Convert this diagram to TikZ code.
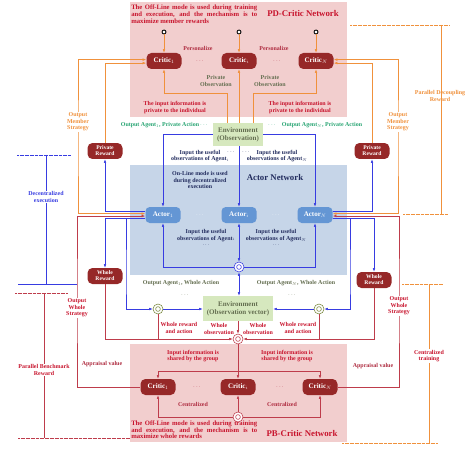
\documentclass[tikz,border=0pt]{standalone}
\usepackage{fontspec}
\setmainfont{Liberation Serif}
\usetikzlibrary{arrows.meta, positioning, calc}

\definecolor{pinkbg}{RGB}{242,206,206}
\definecolor{bluebg}{RGB}{198,213,232}
\definecolor{greenbg}{RGB}{214,232,190}
\definecolor{critred}{RGB}{150,40,40}
\definecolor{actblue}{RGB}{100,150,212}
\definecolor{txtred}{RGB}{200,20,45}
\definecolor{txtcrim}{RGB}{175,45,65}
\definecolor{linred}{RGB}{190,60,75}
\definecolor{linorange}{RGB}{240,145,60}
\definecolor{linblue}{RGB}{55,60,225}
\definecolor{txtnavy}{RGB}{35,45,95}
\definecolor{txtteal}{RGB}{40,165,115}
\definecolor{txtolive}{RGB}{100,110,80}
\definecolor{ringolive}{RGB}{120,135,60}

\hyphenpenalty=10000
\exhyphenpenalty=10000

\begin{document}
\begin{tikzpicture}[x=0.05cm, y=-0.05cm, line width=0.8pt,
      >={Latex[length=1.8mm,width=1.3mm]},
      critic/.style={rectangle, rounded corners=7pt, fill=critred, text=white, minimum width=1.75cm, minimum height=0.8cm, inner sep=1pt, font=\fontsize{10}{11}\selectfont\bfseries},
      actor/.style={critic, rounded corners=6pt, fill=actblue},
      reward/.style={critic, align=center, font=\fontsize{8}{8.5}\selectfont\bfseries},
      env/.style={rectangle, fill=greenbg, text=txtolive, align=center, inner sep=1pt, font=\fontsize{10}{11.5}\selectfont\bfseries},
      lbl/.style={align=center, inner sep=1pt, font=\fontsize{8.5}{9.5}\selectfont\bfseries},
      title/.style={inner sep=0pt, font=\fontsize{12.5}{14}\selectfont\bfseries},
      offline/.style={inner sep=0pt, text=txtred, text width=6.3cm, align=justify, font=\fontsize{9.5}{9.5}\selectfont\bfseries},
      dots/.style={inner sep=0pt, font=\fontsize{9}{9}\selectfont},
      term/.style={circle, draw, fill=white, line width=1.2pt, minimum size=0.2cm, inner sep=0pt},
      ring/.style={circle, draw=#1, fill=white, minimum size=0.5cm, inner sep=0pt, path picture={\draw[#1] (path picture bounding box.center) circle (0.12cm);}},
      oarr/.style={->, linorange},
      barr/.style={->, linblue},
      rarr/.style={->, linred}]

      \path[use as bounding box, fill=white] (0,0) rectangle (474,453);

      % Network areas
      \fill[pinkbg] (130,2) rectangle (347,117);
      \fill[bluebg] (130,165) rectangle (347,275);
      \fill[pinkbg] (130,344) rectangle (347,442);

      \node[title, text=txtred] (pdtitle) at (303,13) {PD-Critic Network};
      \node[title, text=txtnavy] (actitle) at (275,177) {Actor Network};
      \node[title, text=txtred] (pbtitle) at (302,433) {PB-Critic Network};

      \node[offline, anchor=north west] (offtop) at (131,5) {The Off-Line mode is used during training and execution, and the mechanism is to maximize member rewards};
      \node[offline, anchor=north west] (offbot) at (131,420.5) {The Off-Line mode is used during training and execution, and the mechanism is to maximize whole rewards};

      % Critics, actors and environments
      \foreach \n/\x in {1/164, i/239, N/316} {
        \node[critic] (pc\n) at (\x,61) {Critic$_\n$};
        \node[term] (t\n) at (\x,32) {};
        \draw[oarr] (t\n) -- (pc\n);
      }
      \foreach \n/\x in {1/163, i/239, N/315}
        \node[actor] (a\n) at (\x,215) {Actor$_\n$};
      \foreach \n/\x in {1/158, i/238, N/320}
        \node[critic] (pb\n) at (\x,387) {Critic$_\n$};

      \node[env, minimum width=2.5cm, minimum height=1.15cm] (envt) at (238,134.5) {Environment\\(Observation)};
      \node[env, minimum width=3.5cm, minimum height=1.25cm] (envb) at (238,308.5) {Environment\\(Observation vector)};

      \node[reward] (pr1) at (105,151) {Private\\Reward};
      \node[reward] (prN) at (372,151) {Private\\Reward};
      \node[reward] (wr1) at (105,276) {Whole\\Reward};
      \node[reward] (wrN) at (374,280) {Whole\\Reward};

      \node[ring=linblue] (hub) at (239,267) {};
      \node[ring=ringolive] (g1) at (158,309) {};
      \node[ring=ringolive] (gN) at (319,309) {};
      \node[ring=linred] (mix) at (238,339) {};
      \node[ring=linred] (base) at (238,417) {};

      \node[dots, text=txtcrim] at (200,61) {$\cdots$};
      \node[dots, text=txtcrim] at (277,61) {$\cdots$};
      \node[dots, text=white] at (200,215) {$\cdots$};
      \node[dots, text=white] at (276,215) {$\cdots$};
      \node[dots, text=txtcrim] at (197,387) {$\cdots$};
      \node[dots, text=txtcrim] at (280,387) {$\cdots$};

      % PD-Critic inputs
      \coordinate (jl) at (227,93);
      \coordinate (jr) at (253,93);
      \draw[oarr] (jl |- envt.north) -- (jl) -| (pc1.south);
      \draw[oarr] (pci |- envt.north) -- (pci.south);
      \draw[oarr] (jr |- envt.north) -- (jr) -| (pcN.south);

      % member strategy and private reward
      \coordinate (msl) at (78,140);
      \coordinate (msr) at (398,140);
      \draw[linorange, <->] ([yshift=2pt]pc1.west) -| (msl) |- ([yshift=2pt]a1.west);
      \draw[linorange, <->] ([yshift=2pt]pcN.east) -| (msr) |- ([yshift=2pt]aN.east);
      \draw[oarr] (pr1.north) |- ([yshift=-3pt]pc1.west);
      \draw[oarr] (prN.north) |- ([yshift=-3pt]pcN.east);
      \draw[barr] ([yshift=5pt]a1.west) -| (pr1.south);
      \draw[barr] ([yshift=5pt]aN.east) -| (prN.south);

      % observations to actors
      \draw[barr] (envt.west) -| (a1.north);
      \draw[barr] (envt.east) -| (aN.north);
      \draw[barr] (ai |- envt.south) -- (ai.north);
      \draw[barr] (hub.west) -| (a1.south);
      \draw[barr] (hub.east) -| (aN.south);
      \draw[barr, <->] (hub.north) -- (ai.south);
      \draw[barr, <->] (hub.south) -- (hub.south |- envb.north);

      % whole actions and rewards
      \coordinate (bl) at (126,280);
      \coordinate (br) at (350,280);
      \draw[barr] ([yshift=-5pt]a1.west) -| (wr1.north);
      \draw[barr] ([yshift=-5pt]a1.west) -| (bl) |- (g1.west);
      \draw[barr] ([yshift=-5pt]aN.east) -| (wrN.north);
      \draw[barr] ([yshift=-5pt]aN.east) -| (br) |- (gN.east);
      \draw[barr] (g1.east) -- (g1.east -| envb.west);
      \draw[barr] (gN.west) -- (gN.west -| envb.east);

      \draw[rarr] (envb.south) -- (mix.north);
      \draw[rarr] (wr1.south) |- (mix.west);
      \draw[rarr] (wrN.south) |- (mix.east);
      \draw[linred] (g1.south) -- (g1.south |- mix.west);
      \draw[linred] (gN.south) -- (gN.south |- mix.east);

      % PB-Critic inputs
      \coordinate (split) at (238,371);
      \draw[rarr] (mix.south) -- (split) -| (pb1.north);
      \draw[rarr] (split) -| (pbN.north);
      \draw[rarr] (split) -- (pbi.north);
      \draw[rarr] (base.west) -| (pb1.south);
      \draw[rarr] (base.east) -| (pbN.south);
      \draw[rarr] (base.north) -- (pbi.south);

      % appraisal back to actors
      \coordinate (wsl) at (77,300);
      \coordinate (wsr) at (399,300);
      \draw[rarr] (pb1.west) -| (wsl) |- ([yshift=-1.5pt]a1.west);
      \draw[rarr] (pbN.east) -| (wsr) |- ([yshift=-1.5pt]aN.east);

      % Brackets
      \draw[linorange, densely dotted] (350,25) -- (449,25);
      \draw[linorange] (441,25) -- (441,214);
      \draw[linorange, densely dotted] (403,214) -- (448,214);
      \draw[linorange, densely dotted] (402,284) -- (443,284);
      \draw[linorange] (429,284) -- (429,443);
      \draw[linorange, densely dotted] (342,443) -- (437,443);
      \draw[linblue, densely dotted] (17,155) -- (71,155);
      \draw[linblue] (46,155) -- (46,284);
      \draw[linblue] (18,284) -- (77,284);
      \draw[linred, densely dotted] (15,293) -- (68,293);
      \draw[linred] (44,293) -- (44,438);
      \draw[linred, densely dotted] (18,438) -- (130,438);

      % Annotations
      \node[lbl, text=txtcrim] at (198,48) {Personalize};
      \node[lbl, text=txtcrim] at (274,48) {Personalize};
      \node[lbl, text=txtolive] at (216,81) {Private\\Observation};
      \node[lbl, text=txtolive] at (270,81) {Private\\Observation};
      \node[lbl, text=txtred] at (175,107.5) {The input information is\\private to the individual};
      \node[lbl, text=txtred] at (300,107.5) {The input information is\\private to the individual};
      \node[lbl, text=txtteal] at (160,125) {Output Agent$_1$, Private Action};
      \node[dots, text=txtteal] at (204,125) {$\cdots$};
      \node[dots, text=txtteal] at (272,125) {$\cdots$};
      \node[lbl, text=txtteal] at (322,125) {Output Agent$_N$, Private Action};
      \node[lbl, text=txtnavy] at (200,156) {Input the useful\\observations of Agent$_i$};
      \node[dots, text=txtnavy] at (231,152) {$\cdots$};
      \node[dots, text=txtnavy] at (246,152) {$\cdots$};
      \node[lbl, text=txtnavy] at (277,156) {Input the useful\\observations of Agent$_N$};
      \node[lbl, text=txtnavy] at (200,180) {On-Line mode is used\\during decentralized\\execution};
      \node[lbl, text=txtnavy] at (206,238) {Input the useful\\observations of Agent$_i$\\$\cdots$};
      \node[lbl, text=txtnavy] at (276,238) {Input the useful\\observations of Agent$_N$\\$\cdots$};
      \node[lbl, text=txtolive] at (181,283) {Output Agent$_1$, Whole Action};
      \node[lbl, text=txtolive] at (296,283) {Output Agent$_N$, Whole Action};
      \node[dots, text=txtolive] at (185,295) {$\cdots$};
      \node[dots, text=txtolive] at (292,295) {$\cdots$};
      \node[lbl, text=txtred] at (179,328) {Whole reward\\and action};
      \node[lbl, text=txtred] at (298,328) {Whole reward\\and action};
      \node[lbl, text=txtred] at (219,329) {Whole\\observation};
      \node[lbl, text=txtred] at (258,329) {Whole\\observation};
      \node[lbl, text=txtred] at (193,356) {Input information is\\shared by the group};
      \node[lbl, text=txtred] at (287,356) {Input information is\\shared by the group};
      \node[lbl, text=txtcrim] at (193,404) {Centralized};
      \node[lbl, text=txtcrim] at (282,404) {Centralized};
      \node[lbl, text=txtcrim] at (102,364) {Appraisal value};
      \node[lbl, text=txtcrim] at (373,366) {Appraisal value};

      \node[lbl, text=linorange, fill=white] at (78,122) {Output\\Member\\Strategy};
      \node[lbl, text=linorange, fill=white] at (398,122) {Output\\Member\\Strategy};
      \node[lbl, text=txtred, fill=white] at (77,308) {Output\\Whole\\Strategy};
      \node[lbl, text=txtred, fill=white] at (399,306) {Output\\Whole\\Strategy};
      \node[lbl, text=linorange] at (440,96) {Parallel Decoupling\\Reward};
      \node[lbl, text=txtred, fill=white] at (429,356) {Centralized\\training};
      \node[lbl, text=linblue, fill=white] at (46,197) {Decentralized\\execution};
      \node[lbl, text=txtred, fill=white] at (44,370) {Parallel Benchmark\\Reward};
    \end{tikzpicture}
\end{document}
